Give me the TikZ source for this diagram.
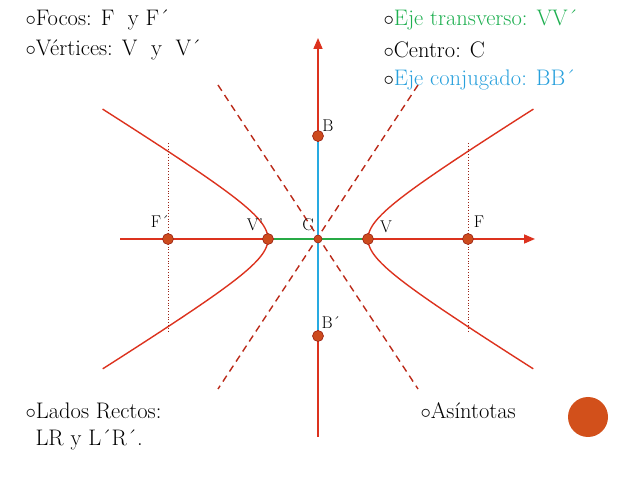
\documentclass[tikz,border=0pt]{standalone}
\usetikzlibrary{arrows.meta}
\begin{document}
\begin{tikzpicture}[x=1pt,y=-1pt,
  ax/.style={draw=rd,line width=1.6pt,-{Triangle[length=11pt,width=9pt]}},
  hyp/.style={draw=rd,line width=1.4pt},
  asy/.style={draw=rd!85!black,line width=1.4pt,dash pattern=on 7pt off 5pt},
  lr/.style={draw=rd!70!black,line width=0.8pt,dotted},
  pt/.style={circle,fill=dotc,draw=rd!70!black,line width=0.6pt,inner sep=0pt,minimum size=11pt},
  lab/.style={font=\fontsize{17}{19}\selectfont},
  txt/.style={font=\fontsize{22.5}{26}\selectfont,anchor=west,align=left}]
\definecolor{rd}{RGB}{220,50,30}
\definecolor{dotc}{RGB}{205,75,30}
\definecolor{bl}{RGB}{40,170,225}
\definecolor{gr}{RGB}{40,170,70}
\definecolor{tg}{RGB}{30,175,80}
\definecolor{tb}{RGB}{40,160,220}
\useasboundingbox (0,0) rectangle (638,478);
\coordinate (hl) at (120,239); \coordinate (hr) at (535,239);
\coordinate (vb) at (318,437); \coordinate (vt) at (318,38);
\draw[ax] (hl) -- (hr);
\draw[ax] (vb) -- (vt);
\coordinate (a1) at (218,85); \coordinate (a2) at (418,389);
\coordinate (a3) at (418,85); \coordinate (a4) at (218,389);
\draw[asy] (a1) -- (a2);
\draw[asy] (a3) -- (a4);
\draw[hyp,domain=-2.14:2.14,samples=80,smooth] plot ({318+50*cosh(\x)},{239+31*sinh(\x)});
\draw[hyp,domain=-2.14:2.14,samples=80,smooth] plot ({318-50*cosh(\x)},{239+31*sinh(\x)});
\coordinate (l1) at (468,143); \coordinate (l2) at (468,333);
\coordinate (l3) at (168,143); \coordinate (l4) at (168,333);
\draw[lr] (l1) -- (l2);
\draw[lr] (l3) -- (l4);
\node[pt] (B) at (318,136) {};
\node[pt] (Bp) at (318,336) {};
\node[pt] (V) at (368,239) {};
\node[pt] (Vp) at (268,239) {};
\node[pt] (F) at (468,239) {};
\node[pt] (Fp) at (168,239) {};
\draw[bl,line width=2pt] (B) -- (Bp);
\draw[gr,line width=2pt] (Vp) -- (V);
\node[pt,minimum size=8pt] (C) at (318,239) {};
\node[lab] at (328,126) {B};
\node[lab] at (331,323) {B\'{}};
\node[lab] at (160,222) {F\'{}};
\node[lab] at (255,225) {V'};
\node[lab] at (308,225) {C};
\node[lab] at (386,227) {V};
\node[lab] at (479,222) {F};
\node[txt] at (22,20) {$\circ$Focos: F\ \ y F\'{}};
\node[txt] at (22,50) {$\circ$V\'ertices: V\ \ y\ \ V\'{}};
\node[txt,text=tg] at (380,20) {\textcolor{black}{$\circ$}Eje transverso: VV\'{}};
\node[txt] at (380,50) {$\circ$Centro: C};
\node[txt,text=tb] at (380,80) {\textcolor{black}{$\circ$}Eje conjugado: BB\'{}};
\node[txt] at (22,411) {$\circ$Lados Rectos:};
\node[txt] at (32,440) {LR y L\'{}R\'{}.};
\node[txt] at (417,411) {$\circ$As\'intotas};
\fill[dotc!90!orange] (588,417) circle (20);
\end{tikzpicture}
\end{document}
